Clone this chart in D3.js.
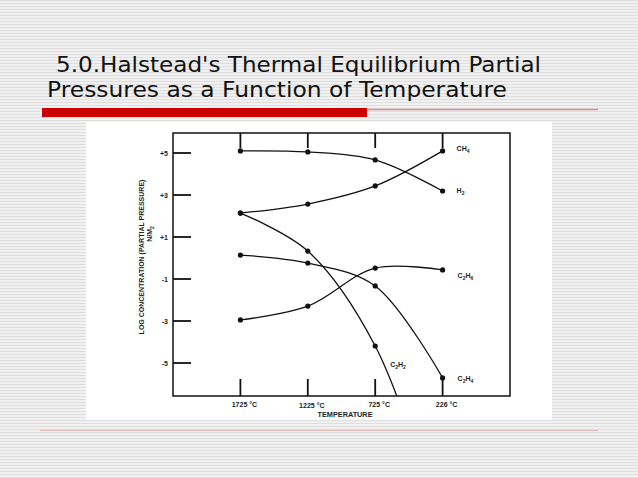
<!DOCTYPE html>
<html lang="en">
<head>
    <meta charset="UTF-8">
    <script src="https://d3js.org/d3.v7.min.js"></script>
    <title>Halstead's Thermal Equilibrium Partial Pressures</title>
    <style>
        body {
            margin: 0;
            background-color: #ececec;
        }
        svg {
            display: block;
        }
        .axis-text {
            font-family: "Liberation Sans", Arial, sans-serif;
            font-weight: bold;
            fill: #222;
        }
    </style>
</head>
<body>
    <svg id="chart" width="638" height="478"></svg>

    <script>
        // data
        const temperatures = ["1725 °C", "1225 °C", "725 °C", "226 °C"];
        const ch4 = [2.14, 2.57, 3.43, 5.1];
        const h2 = [5.1, 5.05, 4.67, 3.19];
        const c2h2 = [2.14, 0.33, -4.19, -13];   // last value falls off the bottom of the plot
        const c2h4 = [0.14, -0.24, -1.33, -5.71];
        const c2h6 = [-2.95, -2.29, -0.48, -0.57];
        const yTicks = [5, 3, 1, -1, -3, -5];
        const yTickLabels = ["+5", "+3", "+1", "-1", "-3", "-5"];

        const series = [
            { name: "CH", sub: "4", pre: "", values: ch4 },
            { name: "H", sub: "2", pre: "", values: h2 },
            { name: "H", sub: "2", pre: "C", preSub: "2", values: c2h2 },
            { name: "H", sub: "4", pre: "C", preSub: "2", values: c2h4 },
            { name: "H", sub: "6", pre: "C", preSub: "2", values: c2h6 }
        ];

        const svg = d3.select("#chart");

        // striped slide background
        const defs = svg.append("defs");
        const pattern = defs.append("pattern")
            .attr("id", "stripes")
            .attr("width", 4).attr("height", 3)
            .attr("patternUnits", "userSpaceOnUse");
        pattern.append("rect").attr("width", 4).attr("height", 3).attr("fill", "#f1f1f1");
        pattern.append("rect").attr("width", 4).attr("height", 1).attr("fill", "#dedede");
        svg.append("rect").attr("width", 638).attr("height", 478).attr("fill", "url(#stripes)");

        // slide title
        const title = svg.append("g")
            .style("font-family", "'DejaVu Sans', Verdana, sans-serif")
            .style("font-size", "22px")
            .attr("fill", "#111");
        title.append("text")
            .attr("x", 56).attr("y", 72)
            .attr("textLength", 485).attr("lengthAdjust", "spacingAndGlyphs")
            .text("5.0.Halstead's Thermal Equilibrium Partial");
        title.append("text")
            .attr("x", 47).attr("y", 97)
            .attr("textLength", 460).attr("lengthAdjust", "spacingAndGlyphs")
            .text("Pressures as a Function of Temperature");

        // red rule under the title
        svg.append("line")
            .attr("x1", 367).attr("x2", 598).attr("y1", 109.5).attr("y2", 109.5)
            .attr("stroke", "#d98a8a").attr("stroke-width", 1.5);
        svg.append("rect")
            .attr("x", 42).attr("y", 108).attr("width", 325).attr("height", 9)
            .attr("fill", "#cc0000");
        svg.append("line")
            .attr("x1", 40).attr("x2", 598).attr("y1", 430.5).attr("y2", 430.5)
            .attr("stroke", "#e6b9b9").attr("stroke-width", 1);

        // white panel holding the figure
        svg.append("rect")
            .attr("x", 86).attr("y", 122).attr("width", 466).attr("height", 298)
            .attr("fill", "#fff");

        const frame = { left: 173, right: 510, top: 133, bottom: 396 };

        const x = d3.scalePoint()
            .domain(temperatures)
            .range([frame.left, frame.right])
            .padding(1);

        const y = d3.scaleLinear()
            .domain([-5, 5])
            .range([363, 153]);

        defs.append("clipPath").attr("id", "plotClip")
            .append("rect")
            .attr("x", frame.left).attr("y", frame.top)
            .attr("width", frame.right - frame.left)
            .attr("height", frame.bottom - frame.top);

        // frame
        svg.append("rect")
            .attr("x", frame.left).attr("y", frame.top)
            .attr("width", frame.right - frame.left)
            .attr("height", frame.bottom - frame.top)
            .attr("fill", "none").attr("stroke", "#111").attr("stroke-width", 1.5);

        // left ticks (drawn inward) and labels
        svg.append("g").selectAll("line")
            .data(yTicks)
            .enter().append("line")
            .attr("x1", frame.left).attr("x2", frame.left + 18)
            .attr("y1", d => y(d)).attr("y2", d => y(d))
            .attr("stroke", "#111").attr("stroke-width", 1.8);

        svg.append("g").selectAll("text")
            .data(yTicks)
            .enter().append("text")
            .attr("class", "axis-text")
            .attr("x", frame.left - 5)
            .attr("y", d => y(d) + 2.5)
            .attr("text-anchor", "end")
            .style("font-size", "7px")
            .text((d, i) => yTickLabels[i]);

        // top and bottom ticks
        const xTicks = svg.append("g");
        xTicks.selectAll(".top")
            .data(temperatures)
            .enter().append("line")
            .attr("x1", d => x(d)).attr("x2", d => x(d))
            .attr("y1", frame.top).attr("y2", frame.top + 15)
            .attr("stroke", "#111").attr("stroke-width", 1.8);
        xTicks.selectAll(".bottom")
            .data(temperatures)
            .enter().append("line")
            .attr("x1", d => x(d)).attr("x2", d => x(d))
            .attr("y1", frame.bottom - 17).attr("y2", frame.bottom)
            .attr("stroke", "#111").attr("stroke-width", 1.8);

        svg.append("g").selectAll("text")
            .data(temperatures)
            .enter().append("text")
            .attr("class", "axis-text")
            .attr("x", d => x(d) + 4)
            .attr("y", (d, i) => i === 1 ? 408 : 406.5)
            .attr("text-anchor", "middle")
            .style("font-size", "7px")
            .text(d => d);

        svg.append("text")
            .attr("class", "axis-text")
            .attr("x", 345).attr("y", 417)
            .attr("text-anchor", "middle")
            .style("font-size", "7.3px")
            .text("TEMPERATURE");

        // y axis title
        svg.append("text")
            .attr("class", "axis-text")
            .attr("transform", "translate(143.5,257) rotate(-90)")
            .attr("text-anchor", "middle")
            .style("font-size", "7px")
            .text("LOG CONCENTRATION (PARTIAL PRESSURE)");
        const unit = svg.append("text")
            .attr("class", "axis-text")
            .attr("transform", "translate(152,234) rotate(-90)")
            .attr("text-anchor", "middle")
            .style("font-size", "7px");
        unit.append("tspan").text("N/M");
        unit.append("tspan").attr("dy", 2).style("font-size", "5px").text("2");

        // curves
        const line = d3.line()
            .x((d, i) => x(temperatures[i]))
            .y(d => y(d))
            .curve(d3.curveCatmullRom.alpha(0.5));

        const plot = svg.append("g").attr("clip-path", "url(#plotClip)");

        plot.selectAll("path")
            .data(series)
            .enter().append("path")
            .attr("d", d => line(d.values))
            .attr("fill", "none")
            .attr("stroke", "#111")
            .attr("stroke-width", 1.3);

        series.forEach(s => {
            plot.append("g").selectAll("circle")
                .data(s.values)
                .enter().append("circle")
                .attr("cx", (d, i) => x(temperatures[i]))
                .attr("cy", d => y(d))
                .attr("r", 2.6)
                .attr("fill", "#111");
        });

        // curve names with subscripts
        const labelPos = [
            { x: x("226 °C") + 14, y: y(ch4[3]) + 0 },
            { x: x("226 °C") + 14, y: y(h2[3]) + 2 },
            { x: x("725 °C") + 15, y: y(-5) + 4 },
            { x: x("226 °C") + 15, y: y(c2h4[3]) + 3 },
            { x: x("226 °C") + 15, y: y(c2h6[3]) + 8 }
        ];

        series.forEach((s, i) => {
            const t = svg.append("text")
                .attr("class", "axis-text")
                .attr("x", labelPos[i].x)
                .attr("y", labelPos[i].y)
                .style("font-size", "7px");
            if (s.pre) {
                t.append("tspan").text(s.pre);
                t.append("tspan").attr("dy", 2).style("font-size", "5px").text(s.preSub);
                t.append("tspan").attr("dy", -2).text(s.name);
            } else {
                t.append("tspan").text(s.name);
            }
            t.append("tspan").attr("dy", 2).style("font-size", "5px").text(s.sub);
        });
    </script>
</body>
</html>
